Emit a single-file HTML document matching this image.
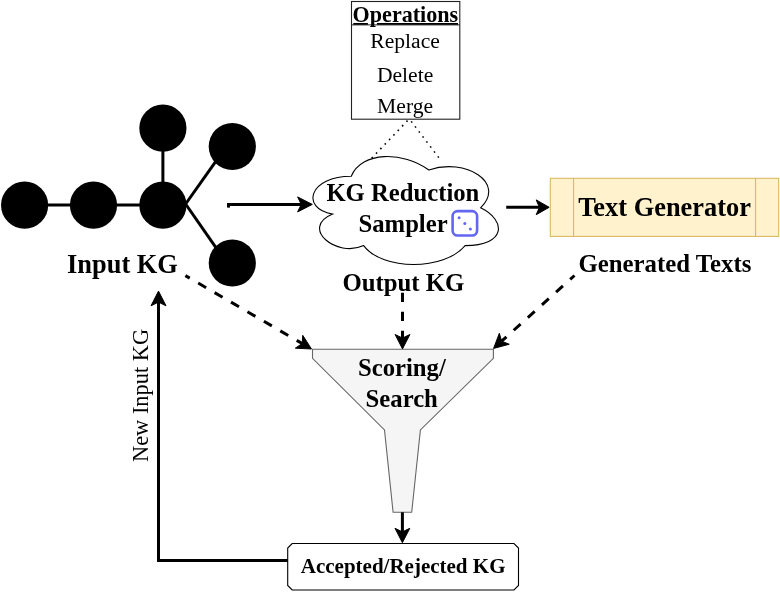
<!DOCTYPE html>
<html><head><meta charset="utf-8"><style>
html,body{margin:0;padding:0;background:#fff;width:780px;height:592px;overflow:hidden}
svg{display:block;will-change:transform}
text{font-family:"Liberation Serif",serif}
</style></head><body>
<svg width="780" height="592" viewBox="0 0 780 592">
<line x1="24.6" y1="205.1" x2="93.5" y2="205.1" stroke="#000" stroke-width="3"/>
<line x1="93.5" y1="205.1" x2="162.9" y2="205.1" stroke="#000" stroke-width="3"/>
<line x1="162.9" y1="205.1" x2="162.9" y2="128.1" stroke="#000" stroke-width="3"/>
<line x1="185.6" y1="204" x2="217.4" y2="159.2" stroke="#000" stroke-width="3"/>
<line x1="185.6" y1="204" x2="217" y2="249.2" stroke="#000" stroke-width="3"/>
<circle cx="24.6" cy="205.1" r="23.6" fill="#000"/>
<circle cx="93.5" cy="205.1" r="23.6" fill="#000"/>
<circle cx="162.9" cy="205.1" r="23.6" fill="#000"/>
<circle cx="162.9" cy="128.1" r="23.6" fill="#000"/>
<circle cx="232.3" cy="146.5" r="23.6" fill="#000"/>
<circle cx="232.3" cy="263" r="23.6" fill="#000"/>
<rect x="351.5" y="1.5" width="108.3" height="117.7" fill="#fff" stroke="#222" stroke-width="1.1"/>
<line x1="351.5" y1="24.9" x2="459.8" y2="24.9" stroke="#222" stroke-width="1"/>
<path d="M353.3,23.9 H367.9 M376.9,23.9 H458" stroke="#000" stroke-width="1.9"/>
<text x="405.4" y="21.7" font-family="Liberation Serif" font-weight="bold" font-size="22.1" text-anchor="middle">Operations</text>
<text x="405.1" y="47.9" font-family="Liberation Serif" font-size="21.6" text-anchor="middle">Replace</text>
<text x="405.1" y="81.7" font-family="Liberation Serif" font-size="21.6" text-anchor="middle">Delete</text>
<text x="405.1" y="112.9" font-family="Liberation Serif" font-size="21.6" text-anchor="middle">Merge</text>
<path d="M407.55,120.62 L371.65,158.18" stroke="#000" stroke-width="1.6" stroke-dasharray="1.6 4.695" fill="none"/>
<path d="M411.22,121.36 L438.78,157.64" stroke="#000" stroke-width="1.6" stroke-dasharray="1.6 4.680" fill="none"/>
<path d="M351.25,176.30 C309.85,176.30 299.50,207.80 332.62,214.10 C299.50,227.96 336.76,258.20 363.67,245.60 C382.30,270.80 444.40,270.80 465.10,245.60 C506.50,245.60 506.50,220.40 480.62,207.80 C506.50,182.60 465.10,157.40 428.88,170.00 C403.00,151.10 361.60,151.10 351.25,176.30 Z" fill="#fff" stroke="#000" stroke-width="1.1"/>
<text x="326.4" y="201.3" font-family="Liberation Serif" font-weight="bold" font-size="24.7">KG Reduction</text>
<text x="358.5" y="232" font-family="Liberation Serif" font-weight="bold" font-size="24.7">Sampler</text>
<rect x="452.6" y="211.1" width="24.5" height="24.4" rx="5" fill="none" stroke="#6366f1" stroke-width="2.6"/>
<circle cx="459.1" cy="217.8" r="1.5" fill="#6366f1"/>
<circle cx="464.8" cy="223.5" r="1.5" fill="#6366f1"/>
<circle cx="470.4" cy="229" r="1.5" fill="#6366f1"/>
<path d="M227.00,204.40 L301.28,204.40" stroke="#000" stroke-width="3" fill="none"/><path d="M312.30,204.40 L297.60,211.90 L301.28,204.40 L297.60,196.90 Z" fill="#000" stroke="#000" stroke-width="1"/>
<rect x="227" y="204" width="3" height="3.6" fill="#000"/>
<path d="M506.20,207.30 L539.45,207.30" stroke="#000" stroke-width="3" fill="none"/><path d="M549.20,207.30 L536.20,214.70 L539.45,207.30 L536.20,199.90 Z" fill="#000" stroke="#000" stroke-width="1"/>
<rect x="550.3" y="178.3" width="228.4" height="58.1" fill="#fff2cc" stroke="#d6b656" stroke-width="1"/>
<line x1="573.6" y1="178.3" x2="573.6" y2="236.4" stroke="#d6b656" stroke-width="1"/>
<line x1="755.6" y1="178.3" x2="755.6" y2="236.4" stroke="#d6b656" stroke-width="1"/>
<text x="578.2" y="215.9" font-family="Liberation Serif" font-weight="bold" font-size="26.4">Text Generator</text>
<text x="67.1" y="272.9" font-family="Liberation Serif" font-weight="bold" font-size="26.4">Input KG</text>
<text x="342.4" y="290.6" font-family="Liberation Serif" font-weight="bold" font-size="24.8">Output KG</text>
<text x="578.5" y="272.4" font-family="Liberation Serif" font-weight="bold" font-size="24.8">Generated Texts</text>
<path d="M312.5,349.2 L493.4,349.2 L493.4,358.3 L420.4,429.9 L411.7,512.3 L393.1,512.3 L384.5,429.9 L312.5,358.3 Z" fill="#f5f5f5" stroke="#666" stroke-width="1.1"/>
<text x="358" y="376.3" font-family="Liberation Serif" font-weight="bold" font-size="24.7">Scoring/</text>
<text x="365.6" y="406.8" font-family="Liberation Serif" font-weight="bold" font-size="24.7">Search</text>
<path d="M185.40,275.60 L302.17,343.57" stroke="#000" stroke-width="3" fill="none" stroke-dasharray="9.2 9.8" stroke-dashoffset="4.2"/><path d="M311.50,349.00 L295.33,348.15 L302.17,343.57 L302.78,335.36 Z" fill="#000" stroke="#000" stroke-width="1"/>
<path d="M402.50,292.80 L402.50,338.10" stroke="#000" stroke-width="3" fill="none" stroke-dasharray="9.2 9.8" stroke-dashoffset="0"/><path d="M402.50,348.90 L395.10,334.50 L402.50,338.10 L409.90,334.50 Z" fill="#000" stroke="#000" stroke-width="1"/>
<path d="M574.50,275.50 L501.62,341.17" stroke="#000" stroke-width="3" fill="none" stroke-dasharray="9.2 9.8" stroke-dashoffset="3.4"/><path d="M493.60,348.40 L499.34,333.26 L501.62,341.17 L509.25,344.26 Z" fill="#000" stroke="#000" stroke-width="1"/>
<path d="M402.40,512.30 L402.40,531.90" stroke="#000" stroke-width="3" fill="none"/><path d="M402.40,542.70 L395.00,528.30 L402.40,531.90 L409.80,528.30 Z" fill="#000" stroke="#000" stroke-width="1"/>
<path d="M292.2,543.5 L514,543.5 L518.5,548 L518.5,585.5 L514,590 L292.2,590 L287.7,585.5 L287.7,548 Z" fill="#fff" stroke="#000" stroke-width="1.1"/>
<text x="300.8" y="573.1" font-family="Liberation Serif" font-weight="bold" font-size="21">Accepted/Rejected KG</text>
<path d="M287.7,560.4 L158.5,560.4 L158.5,302" stroke="#000" stroke-width="3" fill="none"/>
<path d="M158.50,291.10 L166.00,305.80 L158.50,302.12 L151.00,305.80 Z" fill="#000" stroke="#000" stroke-width="1"/>
<text transform="translate(147.7,462) rotate(-90)" font-family="Liberation Serif" font-size="22.4">New Input KG</text>
</svg>
</body></html>
